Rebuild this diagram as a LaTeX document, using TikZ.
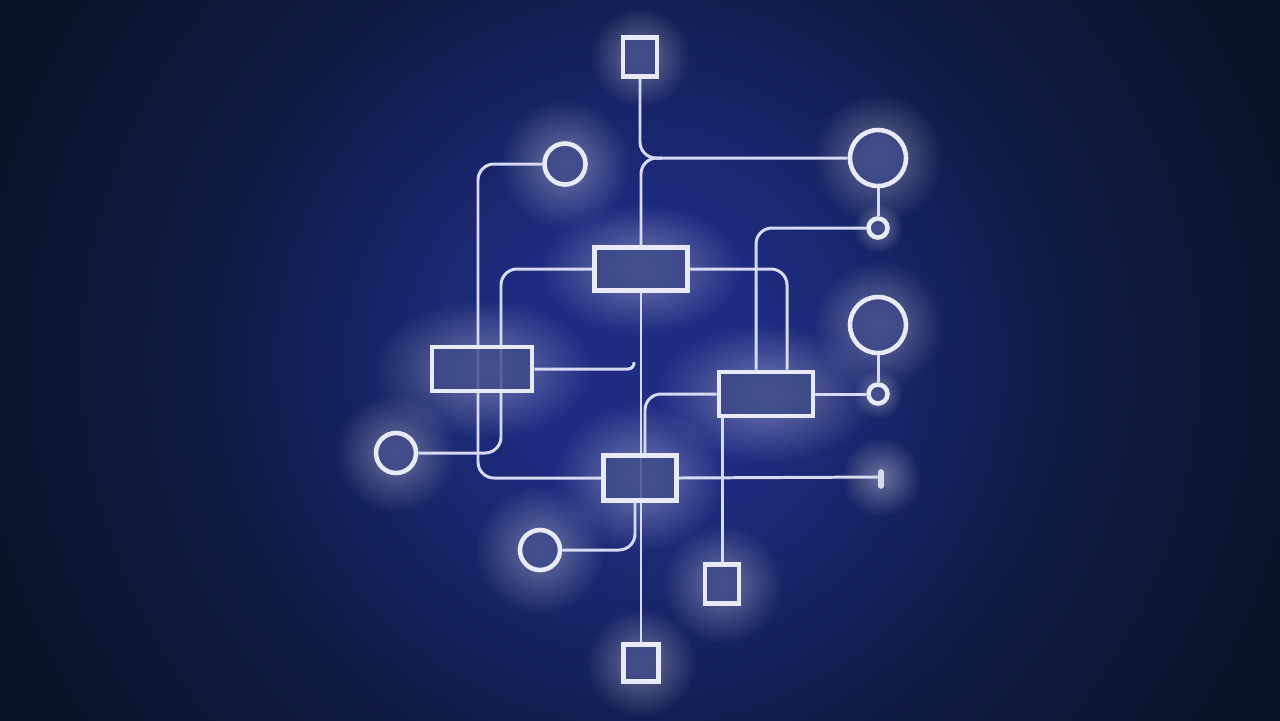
\documentclass[tikz,border=0pt]{standalone}
\usetikzlibrary{fadings}
\definecolor{bgin}{HTML}{1F2C82}
\definecolor{bgmid}{HTML}{101B46}
\definecolor{bgout}{HTML}{0A1226}
\definecolor{edgecol}{HTML}{E8EAF8}
\definecolor{wirecol}{HTML}{D6DAF2}
\definecolor{boxfill}{HTML}{3C4788}

\pgfdeclarelayer{back}
\pgfdeclarelayer{haze}
\pgfdeclarelayer{wiring}
\pgfsetlayers{back,haze,wiring,main}

\pgfdeclareradialshading{bgglow}{\pgfpointorigin}{color(0bp)=(bgin); color(4bp)=(bgin); color(13bp)=(bgmid); color(22bp)=(bgout); color(50bp)=(bgout)}
\tikzfading[name=glowfade, inner color=transparent!20, outer color=transparent!100]

\tikzset{
  wire/.style={draw=wirecol, line width=0.85pt, rounded corners=1.6mm},
  box/.style={rectangle, draw=edgecol, line width=1.3pt, fill=boxfill, fill opacity=0.8, draw opacity=1, inner sep=0pt},
  dot/.style={circle, draw=edgecol, line width=1.3pt, fill=boxfill, fill opacity=0.8, draw opacity=1, inner sep=0pt},
  glow/.style={fill=white, opacity=0.45, path fading=glowfade}
}

\begin{document}
\begin{tikzpicture}[x=0.1mm, y=-0.1mm]
  \useasboundingbox (0,0) rectangle (1280,720);

  % Background
  \begin{pgfonlayer}{back}
    \clip (0,0) rectangle (1280,720);
    \fill[bgout] (0,0) rectangle (1280,720);
    \shade[shading=bgglow] (640,360) circle (8cm);
  \end{pgfonlayer}

  % Boxes
  \node[box, minimum width=3.4mm, minimum height=3.9mm] (sqtop) at (640,57) {};
  \node[box, minimum width=9.3mm, minimum height=4.3mm] (rtop) at (641,269) {};
  \node[box, minimum width=10mm, minimum height=4.4mm] (rleft) at (482,369) {};
  \node[box, minimum width=9.4mm, minimum height=4.4mm] (rright) at (766,394) {};
  \node[box, minimum width=7.3mm, minimum height=4.5mm] (rmid) at (640,478) {};
  \node[box, minimum width=3.4mm, minimum height=3.9mm] (sqmid) at (722,584) {};
  \node[box, minimum width=3.5mm, minimum height=3.7mm] (sqbot) at (641,663) {};

  % Circles
  \node[dot, minimum size=5.6mm] (bigA) at (878,158) {};
  \node[dot, minimum size=1.9mm] (smA) at (878,228) {};
  \node[dot, minimum size=5.6mm] (bigB) at (878,325) {};
  \node[dot, minimum size=1.9mm] (smB) at (878,394) {};
  \node[dot, minimum size=4.1mm] (cA) at (565,164) {};
  \node[dot, minimum size=4.0mm] (cleft) at (396,453) {};
  \node[dot, minimum size=4.0mm] (cbot) at (540,550) {};

  % Free ends
  \coordinate (branch) at (662,158);
  \coordinate (stub) at (634,362);
  \coordinate (tipend) at (881,477);

  % Wires
  \begin{pgfonlayer}{wiring}
    \draw[wire] (sqtop.south) |- (bigA.west);
    \draw[wire] (branch) -| (rtop.north);
    \draw[wire] (bigA.south) -- (smA.north);
    \draw[wire] (smA.west) -| ([xshift=-1mm]rright.north);
    \draw[wire] (cA.west) -| ([xshift=-0.4mm]rleft.center) |- (rmid.west);
    \draw[wire] (rtop.west) -| ([xshift=1.9mm]rleft.center) |- (cleft.east);
    \draw[wire] (rtop.east) -| ([xshift=2.1mm]rright.north);
    \draw[wire] (rtop.south) -- (sqbot.north);
    \draw[wire, rounded corners=0.6mm] (rleft.east) -| (stub);
    \draw[wire] (rright.east) -- (smB.west);
    \draw[wire] (bigB.south) -- (smB.north);
    \draw[wire] (rright.west) -| ([xshift=0.5mm]rmid.north);
    \draw[wire] (sqmid.north |- rright.south) -- (sqmid.north);
    \draw[wire] (rmid.east) -- (tipend);
    \draw[wire, line width=1.6pt, line cap=round] ([yshift=0.5mm]tipend) -- ([yshift=-0.9mm]tipend);
    \draw[wire] ([xshift=-0.5mm]rmid.south) |- (cbot.east);
  \end{pgfonlayer}

  % Glow round the shapes
  \begin{pgfonlayer}{haze}
    \foreach \n/\rx/\ry in {sqtop/5mm/5mm, rtop/10mm/6.5mm, rleft/11mm/7mm,
        rright/11mm/7mm, rmid/8.5mm/7.5mm, sqmid/6mm/6mm, sqbot/5.5mm/5.5mm,
        bigA/6.5mm/6.5mm, smA/2.5mm/2.5mm, bigB/6.5mm/6.5mm, smB/2.5mm/2.5mm,
        cA/6.5mm/6.5mm, cleft/6mm/6mm, cbot/6.5mm/6.5mm, tipend/4mm/4mm} {
      \fill[glow] (\n) ellipse [x radius=\rx, y radius=\ry];
    }
  \end{pgfonlayer}
\end{tikzpicture}
\end{document}
